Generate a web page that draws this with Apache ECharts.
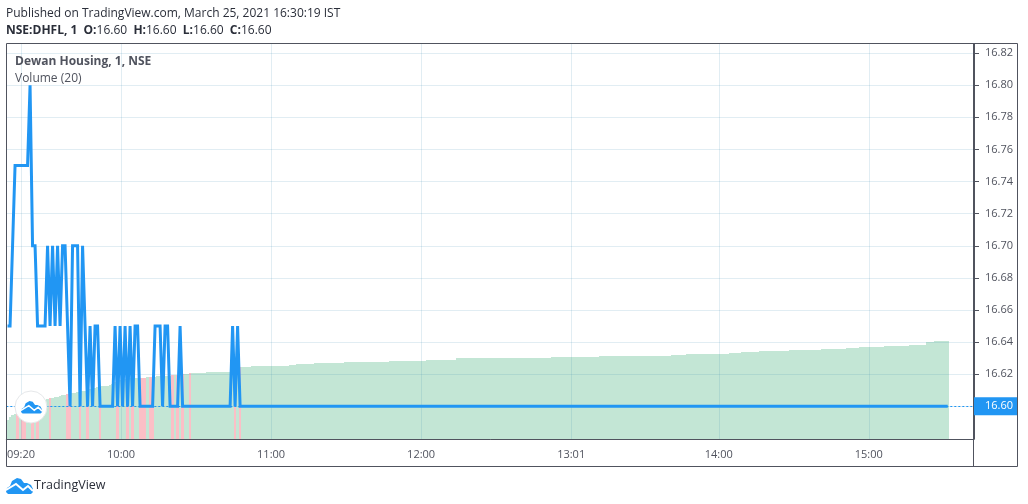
<!DOCTYPE html>
<html lang="en">

<head>
  <meta charset="UTF-8">
  <title>DHFL</title>
  <script src="https://cdn.jsdelivr.net/npm/echarts@6/dist/echarts.min.js"></script>
  <style>
    * {
      padding: 0;
      margin: 0;
    }

    body {
      background: #fff;
    }

    #main {
      width: 1028px;
      height: 504px;
    }
  </style>
</head>

<body>
  <div id="main"></div>
  <script>
    // minute closes, first 94 bars move around, the rest sits at 16.60
    var prices = [
      16.65, 16.65, 16.70, 16.75, 16.75, 16.75, 16.75, 16.75, 16.75, 16.80, 16.70, 16.70, 16.65, 16.65, 16.65, 16.65, 16.70, 16.65, 16.70, 16.65,
      16.70, 16.65, 16.70, 16.70, 16.65, 16.60, 16.70, 16.70, 16.70, 16.60, 16.70, 16.65, 16.60, 16.65, 16.60, 16.65, 16.65, 16.60, 16.60, 16.60,
      16.60, 16.60, 16.60, 16.65, 16.60, 16.65, 16.60, 16.65, 16.60, 16.65, 16.60, 16.65, 16.65, 16.60, 16.60, 16.60, 16.60, 16.60, 16.60, 16.65,
      16.65, 16.65, 16.60, 16.65, 16.65, 16.60, 16.60, 16.60, 16.60, 16.65, 16.60, 16.60, 16.60, 16.60, 16.60, 16.60, 16.60, 16.60, 16.60, 16.60,
      16.60, 16.60, 16.60, 16.60, 16.60, 16.60, 16.60, 16.60, 16.60, 16.60, 16.65, 16.60, 16.65, 16.60, 16.60, 16.60, 16.60, 16.60, 16.60, 16.60,
      16.60, 16.60, 16.60, 16.60, 16.60, 16.60, 16.60, 16.60, 16.60, 16.60, 16.60, 16.60, 16.60, 16.60, 16.60, 16.60, 16.60, 16.60, 16.60, 16.60,
      16.60, 16.60, 16.60, 16.60, 16.60, 16.60, 16.60, 16.60, 16.60, 16.60, 16.60, 16.60, 16.60, 16.60, 16.60, 16.60, 16.60, 16.60, 16.60, 16.60,
      16.60, 16.60, 16.60, 16.60, 16.60, 16.60, 16.60, 16.60, 16.60, 16.60, 16.60, 16.60, 16.60, 16.60, 16.60, 16.60, 16.60, 16.60, 16.60, 16.60,
      16.60, 16.60, 16.60, 16.60, 16.60, 16.60, 16.60, 16.60, 16.60, 16.60, 16.60, 16.60, 16.60, 16.60, 16.60, 16.60, 16.60, 16.60, 16.60, 16.60,
      16.60, 16.60, 16.60, 16.60, 16.60, 16.60, 16.60, 16.60, 16.60, 16.60, 16.60, 16.60, 16.60, 16.60, 16.60, 16.60, 16.60, 16.60, 16.60, 16.60,
      16.60, 16.60, 16.60, 16.60, 16.60, 16.60, 16.60, 16.60, 16.60, 16.60, 16.60, 16.60, 16.60, 16.60, 16.60, 16.60, 16.60, 16.60, 16.60, 16.60,
      16.60, 16.60, 16.60, 16.60, 16.60, 16.60, 16.60, 16.60, 16.60, 16.60, 16.60, 16.60, 16.60, 16.60, 16.60, 16.60, 16.60, 16.60, 16.60, 16.60,
      16.60, 16.60, 16.60, 16.60, 16.60, 16.60, 16.60, 16.60, 16.60, 16.60, 16.60, 16.60, 16.60, 16.60, 16.60, 16.60, 16.60, 16.60, 16.60, 16.60,
      16.60, 16.60, 16.60, 16.60, 16.60, 16.60, 16.60, 16.60, 16.60, 16.60, 16.60, 16.60, 16.60, 16.60, 16.60, 16.60, 16.60, 16.60, 16.60, 16.60,
      16.60, 16.60, 16.60, 16.60, 16.60, 16.60, 16.60, 16.60, 16.60, 16.60, 16.60, 16.60, 16.60, 16.60, 16.60, 16.60, 16.60, 16.60, 16.60, 16.60,
      16.60, 16.60, 16.60, 16.60, 16.60, 16.60, 16.60, 16.60, 16.60, 16.60, 16.60, 16.60, 16.60, 16.60, 16.60, 16.60, 16.60, 16.60, 16.60, 16.60,
      16.60, 16.60, 16.60, 16.60, 16.60, 16.60, 16.60, 16.60, 16.60, 16.60, 16.60, 16.60, 16.60, 16.60, 16.60, 16.60, 16.60, 16.60, 16.60, 16.60,
      16.60, 16.60, 16.60, 16.60, 16.60, 16.60, 16.60, 16.60, 16.60, 16.60, 16.60, 16.60, 16.60, 16.60, 16.60, 16.60, 16.60, 16.60, 16.60, 16.60,
      16.60, 16.60, 16.60, 16.60, 16.60, 16.60, 16.60, 16.60, 16.60, 16.60, 16.60, 16.60, 16.60, 16.60, 16.60, 16.60, 16.60
    ];

    // volume has no readable scale in the picture, so these are relative heights
    var volumes = [
      19, 22, 24, 25, 26, 28, 29, 31, 32, 33, 34, 35, 36, 37, 38, 39, 40, 41, 41, 42,
      42, 43, 44, 44, 45, 45, 46, 46, 47, 47, 48, 48, 49, 50, 51, 51, 52, 52, 53, 53,
      53, 54, 55, 57, 58, 59, 60, 60, 60, 61, 61, 61, 61, 61, 61, 61, 62, 62, 62, 62,
      63, 63, 63, 63, 63, 63, 64, 64, 64, 64, 65, 65, 65, 66, 66, 66, 66, 66, 66, 66,
      67, 67, 67, 67, 67, 67, 67, 67, 67, 67, 67, 67, 72, 72, 72, 72, 72, 72, 73, 73,
      73, 73, 73, 73, 73, 73, 73, 73, 73, 73, 73, 73, 73, 74, 74, 74, 75, 75, 75, 75,
      75, 75, 75, 76, 76, 76, 76, 76, 76, 76, 76, 76, 76, 76, 76, 77, 77, 77, 77, 77,
      77, 77, 77, 77, 77, 77, 77, 77, 77, 77, 77, 77, 77, 78, 78, 78, 78, 78, 78, 78,
      78, 78, 78, 78, 78, 78, 78, 78, 79, 79, 79, 79, 79, 79, 79, 79, 79, 79, 79, 79,
      81, 81, 81, 81, 81, 81, 81, 81, 81, 81, 81, 81, 81, 81, 81, 81, 81, 81, 81, 81,
      81, 81, 81, 81, 81, 81, 81, 81, 81, 81, 81, 81, 81, 81, 81, 81, 81, 81, 82, 82,
      82, 82, 82, 82, 82, 82, 82, 82, 82, 82, 82, 82, 82, 82, 82, 82, 82, 83, 83, 83,
      83, 83, 83, 83, 83, 83, 83, 83, 83, 83, 83, 83, 83, 83, 83, 83, 83, 83, 83, 83,
      83, 83, 83, 83, 83, 83, 84, 84, 84, 84, 84, 84, 85, 85, 85, 85, 85, 85, 85, 85,
      85, 85, 85, 85, 85, 85, 85, 85, 85, 86, 86, 86, 86, 86, 87, 87, 87, 87, 87, 87,
      87, 88, 88, 88, 88, 88, 88, 88, 88, 88, 88, 88, 88, 89, 89, 89, 89, 89, 89, 89,
      89, 89, 89, 89, 89, 89, 90, 90, 90, 90, 90, 90, 90, 90, 90, 90, 91, 91, 91, 91,
      91, 92, 92, 92, 92, 92, 92, 92, 92, 92, 92, 93, 93, 93, 93, 93, 93, 93, 93, 93,
      93, 94, 94, 94, 94, 94, 94, 94, 97, 97, 97, 98, 98, 98, 98, 98, 98
    ];

    // bars that came out pink
    var downBars = [4, 6, 7, 10, 12, 17, 24, 25, 29, 32, 37, 44, 48, 50, 53, 54, 55, 57, 58, 66, 68, 70, 73, 91, 93];

    var timeTicks = ['09:20', '10:00', '11:00', '12:00', '13:01', '14:00', '15:00'];
    var priceTicks = [16.60, 16.62, 16.64, 16.66, 16.68, 16.70, 16.72, 16.74, 16.76, 16.78, 16.80, 16.82];
    var priceLabels = [16.62, 16.64, 16.66, 16.68, 16.70, 16.72, 16.74, 16.76, 16.78, 16.80, 16.82];
    var lastPrice = 16.60;

    var headerLine = 'Published on TradingView.com, March 25, 2021 16:30:19 IST';
    var symbolName = 'NSE:DHFL, 1';
    var ohlc = [['O:', '16.60'], ['H:', '16.60'], ['L:', '16.60'], ['C:', '16.60']];
    var seriesTitle = 'Dewan Housing, 1, NSE';
    var volumeTitle = 'Volume (20)';

    // one label per band, 13:00 is missing on the real chart and the axis runs on past the close
    var minutes = [];
    for (var m = 9 * 60 + 14; minutes.length < 387; m++) {
      if (m === 13 * 60) continue;
      var hh = Math.floor(m / 60), mm = m % 60;
      minutes.push((hh < 10 ? '0' : '') + hh + ':' + (mm < 10 ? '0' : '') + mm);
    }

    var FONT = '"Open Sans", sans-serif';
    var BLUE = '#2196f3';
    var FRAME = '#50535e';
    var GRIDLINE = 'rgba(70,140,180,0.16)';

    function isTick(index, value) {
      return timeTicks.indexOf(value) >= 0;
    }

    var ohlcRich = '{b|' + symbolName + '}  ' + ohlc.map(function (p) {
      return '{b|' + p[0] + '}{r|' + p[1] + '}';
    }).join('  ');

    // bands are 2.5px wide, so normal bars leave seams. snap them to whole pixels
    function renderVolumeBar(params, api) {
      var i = api.value(0);
      var top = api.coord([i, api.value(1)]);
      var base = api.coord([i, 0]);
      var bandWidth = api.size([1, 0])[0];
      var x = Math.round(top[0] - bandWidth / 2);
      var y = Math.round(top[1]);
      return {
        type: 'rect',
        shape: { x: x, y: y, width: 3, height: Math.round(base[1]) - y },
        style: { fill: downBars.indexOf(i) >= 0 ? '#fbbfc6' : '#c3e6d5' }
      };
    }

    function logo(x, y, s) {
      return {
        type: 'group',
        x: x,
        y: y,
        scaleX: s,
        scaleY: s,
        children: [
          {
            type: 'polygon',
            z: 50,
            shape: {
              points: [[0, 14], [1, 10], [4, 8], [6, 3], [11, 0], [15, 1], [18, 5], [21, 5], [25, 7], [27, 11], [27, 14], [25, 16], [2, 16]]
            },
            style: { fill: BLUE }
          },
          {
            type: 'polyline',
            z: 51,
            shape: { points: [[0, 12], [10, 6], [17, 12], [22, 8], [27, 13]] },
            style: { fill: null, stroke: '#fff', lineWidth: 2 }
          }
        ]
      };
    }

    var chartDom = document.getElementById('main');
    var myChart = echarts.init(chartDom);
    var option = {
      animation: false,
      backgroundColor: '#fff',
      textStyle: { fontFamily: FONT },
      grid: { left: 6.3, top: 44, width: 967.7, height: 395, containLabel: false },
      xAxis: {
        type: 'category',
        data: minutes,
        boundaryGap: true,
        z: 2,
        axisLine: { lineStyle: { color: FRAME, width: 1 } },
        axisTick: { interval: isTick, length: 5, alignWithLabel: false, lineStyle: { color: FRAME } },
        axisLabel: {
          interval: isTick,
          color: FRAME,
          fontSize: 11,
          fontFamily: FONT,
          margin: 10,
          padding: [0, 3, 0, 0]
        },
        splitLine: { show: true, interval: isTick, lineStyle: { color: GRIDLINE, width: 1 } }
      },
      yAxis: [
        {
          type: 'value',
          position: 'right',
          min: 16.5796,
          max: 16.8257,
          z: 2,
          axisLine: { show: true, lineStyle: { color: FRAME, width: 1 } },
          axisTick: { show: true, length: 5, customValues: priceTicks, lineStyle: { color: FRAME } },
          axisLabel: {
            customValues: priceLabels,
            color: FRAME,
            fontSize: 11,
            fontFamily: FONT,
            margin: 11,
            formatter: function (v) { return v.toFixed(2); }
          },
          splitLine: { show: true, lineStyle: { color: GRIDLINE, width: 1 } }
        },
        {
          type: 'value',
          min: 0,
          max: 395,
          show: false,
          splitLine: { show: false }
        }
      ],
      series: [
        {
          name: 'Volume',
          type: 'custom',
          yAxisIndex: 1,
          silent: true,
          z: 1,
          encode: { x: 0, y: 1 },
          renderItem: renderVolumeBar,
          data: volumes.map(function (v, i) {
            return [i, v];
          })
        },
        {
          name: 'DHFL',
          type: 'line',
          yAxisIndex: 0,
          data: prices,
          showSymbol: false,
          symbol: 'none',
          smooth: false,
          z: 3,
          lineStyle: { color: BLUE, width: 3, join: 'miter' },
          markLine: {
            silent: true,
            symbol: 'none',
            animation: false,
            z: 2,
            lineStyle: { color: BLUE, type: [2, 2], width: 1 },
            data: [{ yAxis: lastPrice }],
            label: {
              show: true,
              position: 'end',
              distance: 0,
              formatter: lastPrice.toFixed(2),
              backgroundColor: BLUE,
              color: '#fff',
              fontFamily: FONT,
              fontSize: 11,
              width: 33,
              height: 18,
              lineHeight: 18,
              align: 'left',
              padding: [0, 0, 0, 11]
            }
          }
        }
      ],
      graphic: [
        // outer pane frame
        {
          type: 'rect',
          shape: { x: 6.5, y: 43.5, width: 1011, height: 423 },
          style: { fill: null, stroke: FRAME, lineWidth: 1 },
          z: 20
        },
        {
          type: 'line',
          shape: { x1: 973.5, y1: 43.5, x2: 973.5, y2: 466.5 },
          style: { stroke: FRAME, lineWidth: 1 },
          z: 20
        },
        {
          type: 'text',
          x: 6, y: 8,
          style: { text: headerLine, font: '12px ' + FONT, fill: '#2a2e39' }
        },
        {
          type: 'text',
          x: 6, y: 25,
          style: {
            text: ohlcRich,
            font: '12px ' + FONT,
            fill: '#2a2e39',
            rich: {
              b: { font: 'bold 12px ' + FONT, fill: '#2a2e39' },
              r: { font: '12px ' + FONT, fill: '#2a2e39' }
            }
          }
        },
        {
          type: 'text',
          x: 15, y: 56,
          style: { text: seriesTitle, font: 'bold 12px ' + FONT, fill: FRAME },
          z: 30
        },
        {
          type: 'text',
          x: 15, y: 73,
          style: { text: volumeTitle, font: '12px ' + FONT, fill: FRAME },
          z: 30
        },
        // floating logo badge
        {
          type: 'circle',
          shape: { cx: 31, cy: 407, r: 16 },
          style: { fill: '#fff', stroke: '#e6e8ea', lineWidth: 1 },
          z: 40
        },
        logo(21, 401, 0.78),
        // footer logo
        logo(6, 478, 1),
        {
          type: 'text',
          x: 34, y: 479,
          style: { text: 'TradingView', font: '12.5px ' + FONT, fill: '#2a2e39' }
        }
      ]
    };

    option && myChart.setOption(option);
  </script>
</body>

</html>
